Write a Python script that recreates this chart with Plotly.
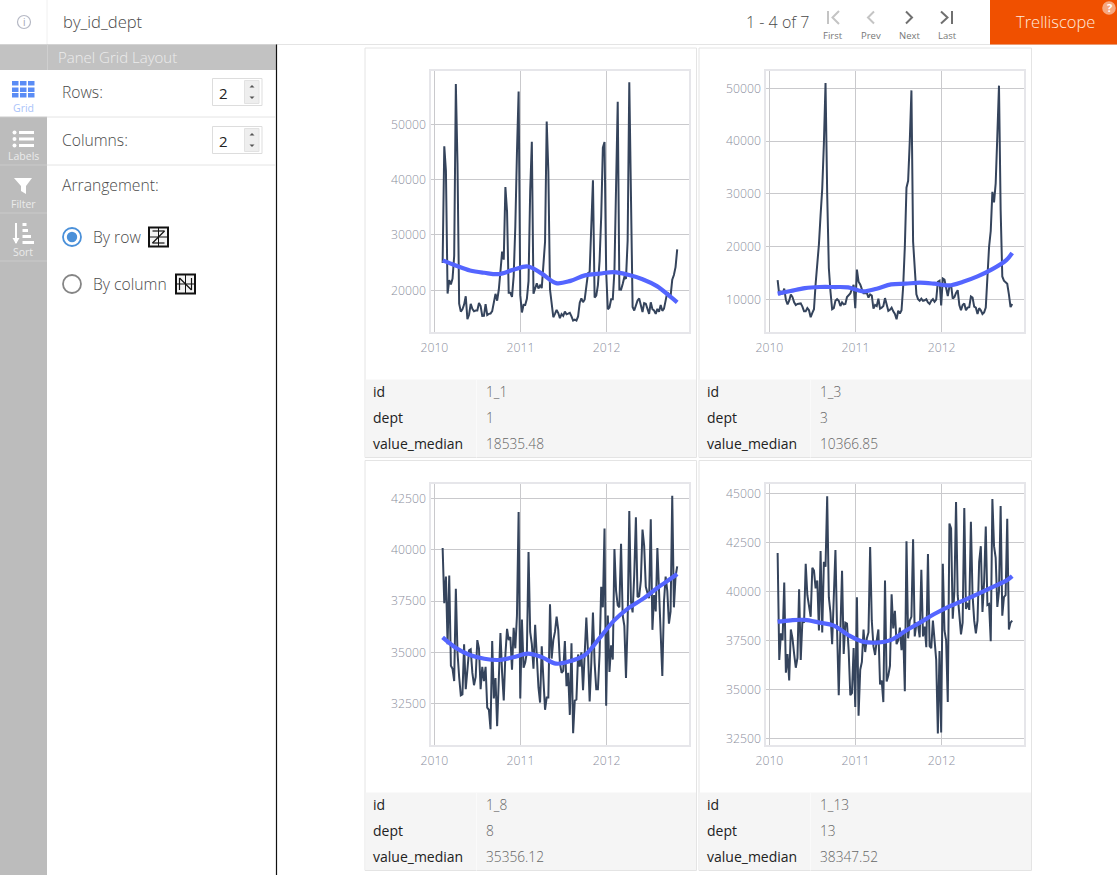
import pandas as pd
import plotly.graph_objects as go
from plotly.subplots import make_subplots

WIDTH = 1117
HEIGHT = 875
FONT = 'Open Sans'

weeks = pd.date_range('2010-02-05', '2012-10-26', freq='7D').strftime('%Y-%m-%d').tolist()
smooth_dates = ['2010-02-05', '2010-04-01', '2010-06-01', '2010-08-01', '2010-10-01', '2010-12-01',
                '2011-02-01', '2011-04-01', '2011-06-01', '2011-08-01', '2011-10-01', '2011-12-01',
                '2012-02-01', '2012-04-01', '2012-06-01', '2012-08-01', '2012-10-01', '2012-10-26']

ids = ['1_1', '1_3', '1_8', '1_13']
depts = ['1', '3', '8', '13']
value_medians = ['18535.48', '10366.85', '35356.12', '38347.52']

dept_1 = [24924, 46039, 41595, 19403, 21827, 21043, 22136, 26229, 57258, 42960,
          17596, 16145, 16555, 17413, 18926, 14773, 15580, 17558, 16637, 16216,
          16328, 16333, 17688, 17150, 15360, 15381, 17508, 15536, 15740, 15793,
          16241, 18194, 19354, 18122, 20094, 23388, 26978, 25543, 38640, 34238,
          19549, 19552, 18820, 22517, 31497, 44912, 55931, 19124, 15984, 17359,
          17341, 18461, 21665, 37887, 46845, 19363, 20327, 21280, 20334, 20881,
          20398, 23873, 28762, 50510, 41512, 20138, 17235, 15136, 15741, 16434,
          15883, 14978, 15682, 15363, 16148, 15654, 15766, 15922, 15295, 14539,
          14689, 14537, 15277, 17746, 18535, 17859, 18337, 20797, 23077, 23351,
          31579, 39886, 18689, 19050, 20911, 25293, 33305, 45773, 46788, 23350,
          16567, 16894, 18365, 18378, 23510, 36988, 54060, 20124, 20113, 21140,
          22366, 22107, 28952, 57592, 34684, 16976, 16347, 17147, 18164, 18517,
          16963, 16065, 17666, 17558, 16633, 15722, 17823, 16566, 16348, 15731,
          16628, 16119, 17330, 16286, 16680, 18322, 19616, 19251, 18947, 21904,
          22764, 24185, 27390]
dept_3 = [13700, 10900, 11500, 11100, 12100, 10000, 9100, 9800, 11000, 10500,
          9500, 9000, 9200, 9300, 9300, 8700, 7800, 7800, 8400, 8000,
          6700, 7500, 8200, 13000, 16500, 20500, 26000, 31000, 39500, 51000,
          30000, 16000, 11500, 8200, 8400, 9800, 10100, 9800, 8800, 9500,
          9100, 9200, 10500, 10900, 11200, 12000, 12800, 8400, 15700, 13400,
          12900, 12000, 11200, 11200, 11300, 10400, 11000, 10800, 8300, 9000,
          8800, 10200, 8300, 8500, 8800, 10300, 8900, 7900, 8100, 8500,
          7800, 7300, 6300, 7900, 7400, 8000, 12500, 20000, 31200, 32500,
          40000, 49600, 21000, 15000, 11000, 10100, 9800, 10200, 9800, 9900,
          10100, 9500, 9200, 9800, 10100, 9600, 10000, 13400, 13600, 8900,
          14000, 13800, 12500, 10700, 12500, 12800, 10200, 10500, 11300, 11800,
          9000, 8000, 9000, 9300, 8000, 8500, 8600, 10600, 10400, 8700,
          8500, 7300, 8400, 8000, 7300, 7600, 8500, 14000, 20000, 23000,
          30400, 28400, 32000, 41000, 50500, 27000, 14400, 13600, 13200, 13000,
          11000, 8600, 9200]
dept_8 = [40100, 37400, 38700, 35400, 38750, 34350, 34200, 33600, 38100, 35000,
          33800, 32900, 32950, 35400, 33200, 34400, 35100, 35150, 34000, 33400,
          33800, 35600, 35200, 33200, 34300, 33600, 34300, 32300, 32200, 31250,
          35550, 32750, 33750, 31400, 33800, 35950, 34000, 32650, 34900, 36150,
          35600, 35750, 34150, 36200, 35200, 36800, 41850, 32750, 36600, 34250,
          34500, 35000, 39900, 36000, 35400, 34200, 36350, 34700, 33300, 32550,
          35300, 33700, 32200, 32800, 32800, 37350, 34700, 35600, 36000, 36750,
          36100, 34500, 34000, 34100, 35550, 33350, 34000, 31950, 35450, 31050,
          32650, 32700, 34900, 34300, 35000, 33150, 34900, 36700, 35000, 32600,
          34500, 36950, 34500, 33200, 33200, 34900, 38200, 37200, 41050, 32400,
          36800, 34050, 35350, 34650, 40050, 38000, 37300, 37200, 40300, 36800,
          36300, 33750, 36500, 41900, 37500, 36950, 38800, 41600, 37700, 37750,
          38500, 41000, 40200, 38200, 37900, 37650, 41500, 36100, 37800, 37000,
          40100, 38000, 36500, 33850, 37500, 38700, 38000, 36400, 37000, 42650,
          37200, 38700, 39200]
dept_13 = [41950, 36500, 37850, 37500, 40450, 35850, 36800, 35450, 38050, 37600,
           36800, 36100, 36600, 40100, 36500, 38500, 38400, 41400, 39800, 39300,
           38700, 41200, 41050, 40150, 40550, 38000, 42050, 37900, 41500, 41250,
           44850, 39700, 38900, 37300, 39500, 42100, 38000, 34700, 38000, 41050,
           36800, 38400, 38350, 37000, 34700, 34800, 37100, 34100, 39700, 33650,
           36000, 36400, 38050, 36900, 37600, 37900, 42250, 38500, 37200, 36750,
           37500, 38050, 35250, 35450, 34350, 40550, 35400, 35700, 36200, 39850,
           38100, 39000, 37300, 37500, 38150, 37000, 37950, 34900, 42550, 37600,
           38500, 38700, 42650, 37700, 38350, 38300, 37650, 41100, 37700, 38200,
           37150, 41900, 37200, 37100, 38500, 37500, 36500, 32750, 36950, 32800,
           41400, 38000, 37500, 34350, 43450, 43200, 38600, 40000, 44550, 39800,
           38700, 37800, 38400, 44250, 39100, 39400, 39050, 43550, 39800, 38500,
           37850, 38500, 41500, 42300, 38950, 40500, 43300, 39300, 39350, 37450,
           44700, 42300, 41700, 39200, 40000, 44350, 38750, 39700, 39800, 43700,
           38050, 38400, 38500]

smooth_1 = [25400, 24490, 23580, 23160, 22920, 23700, 24300, 23000, 21300,
            21700, 22700, 23000, 23280, 22800, 22000, 20750, 18700, 17800]
smooth_3 = [11140, 11640, 12200, 12400, 12400, 12330, 11580, 12080, 12900,
            13030, 13220, 13030, 12700, 13400, 14420, 15740, 17500, 18830]
smooth_8 = [35730, 35230, 34870, 34690, 34630, 34760, 34940, 34770, 34450,
            34580, 34870, 35680, 36550, 37150, 37600, 38130, 38620, 38830]
smooth_13 = [38450, 38520, 38540, 38400, 38250, 37770, 37430, 37380, 37520,
             37980, 38400, 38840, 39220, 39520, 39850, 40200, 40540, 40770]

series = [dept_1, dept_3, dept_8, dept_13]
smooths = [smooth_1, smooth_3, smooth_8, smooth_13]
y_ranges = [[12460, 59630], [3890, 53270], [30480, 43220], [32160, 45470]]
y_dticks = [10000, 10000, 2500, 2500]
x_range = ['2009-12-19', '2012-12-15']

# pixel boxes of the four plot areas and their cards: left, top, right, bottom
plot_boxes = [(431.3, 71, 689, 332), (766.3, 71, 1024, 332), (431.3, 484, 689, 745), (766.3, 484, 1024, 745)]
cards = [(365, 48, 696.5, 457.5), (699, 48, 1031.5, 457.5), (365, 460.5, 696.5, 870.5), (699, 460.5, 1031.5, 870.5)]

LINE = '#35445c'
SMOOTH = '#5465ff'
GRID = '#c9c9cc'
BORDER = '#e6e6ea'
TICK = '#8a8e9c'
TEXT = '#4a4a4a'
RULE = '#e4e4e4'


def X(px):
    return px / WIDTH


def Y(py):
    return 1 - py / HEIGHT


def rect(x0, y0, x1, y1, fill=None, line=None, width=1):
    fig.add_shape(type='rect', xref='paper', yref='paper', x0=X(x0), y0=Y(y0), x1=X(x1), y1=Y(y1),
                  fillcolor=fill, line=dict(color=line, width=width if line else 0))


def circle(cx, cy, r, fill=None, line=None, width=1):
    fig.add_shape(type='circle', xref='paper', yref='paper', x0=X(cx - r), y0=Y(cy - r), x1=X(cx + r), y1=Y(cy + r),
                  fillcolor=fill, line=dict(color=line, width=width if line else 0))


def poly(points, fill=None, line=None, width=1, closed=False):
    path = 'M ' + ' L '.join('{0:.5f} {1:.5f}'.format(X(p[0]), Y(p[1])) for p in points)
    if closed:
        path += ' Z'
    fig.add_shape(type='path', xref='paper', yref='paper', path=path,
                  fillcolor=fill, line=dict(color=line, width=width if line else 0))


def label(x, y, text, size=14, color=TEXT, anchor='left', weight=400):
    fig.add_annotation(xref='paper', yref='paper', x=X(x), y=Y(y), text=text, showarrow=False,
                       xanchor=anchor, yanchor='middle', borderpad=0, borderwidth=0,
                       font=dict(family=FONT, size=size, color=color, weight=weight))


fig = make_subplots(rows=2, cols=2)

for i in range(4):
    row, col = i // 2 + 1, i % 2 + 1
    left, top, right, bottom = plot_boxes[i]
    fig.add_trace(go.Scatter(x=weeks, y=series[i], mode='lines', line=dict(color=LINE, width=2),
                             showlegend=False), row=row, col=col)
    fig.add_trace(go.Scatter(x=smooth_dates, y=smooths[i], mode='lines',
                             line=dict(color=SMOOTH, width=4.2, shape='spline'),
                             showlegend=False), row=row, col=col)
    fig.update_xaxes(domain=[X(left), X(right)], range=x_range, type='date', dtick='M12', tick0='2010-01-01',
                     tickformat='%Y', showgrid=True, gridcolor=GRID, gridwidth=1, zeroline=False,
                     showline=True, mirror=True, linecolor=BORDER, linewidth=2, automargin=False,
                     ticks='outside', ticklen=3, tickcolor='rgba(0,0,0,0)',
                     tickfont=dict(family=FONT, size=12.2, color=TICK, weight=300), row=row, col=col)
    fig.update_yaxes(domain=[Y(bottom), Y(top)], range=y_ranges[i], dtick=y_dticks[i], tick0=0,
                     tickformat='d', showgrid=True, gridcolor=GRID, gridwidth=1, zeroline=False,
                     showline=True, mirror=True, linecolor=BORDER, linewidth=2, automargin=False,
                     ticks='outside', ticklen=1, tickcolor='rgba(0,0,0,0)',
                     tickfont=dict(family=FONT, size=12.2, color=TICK, weight=300), row=row, col=col)

    # card with its label table
    c0, c1, c2, c3 = cards[i]
    rect(c0, c1, c2, c3, line=RULE)
    rect(c0 + 0.5, c3 - 78, c2 - 0.5, c3 - 0.5, fill='#f5f5f5')
    fig.add_shape(type='line', xref='paper', yref='paper', x0=X(c0 + 111.5), x1=X(c0 + 111.5),
                  y0=Y(c3 - 78), y1=Y(c3), line=dict(color='#fafafa', width=1))
    rows = [('id', ids[i]), ('dept', depts[i]), ('value_median', value_medians[i])]
    for k, (name, value) in enumerate(rows):
        cy = c3 - 66 + 26 * k
        label(c0 + 8, cy, name, size=14, color='#222222')
        label(c0 + 120.5, cy, value, size=13.7, color='#666666', weight=300)

# top bar
fig.add_shape(type='line', xref='paper', yref='paper', x0=0, x1=1, y0=Y(44.5), y1=Y(44.5), line=dict(color=RULE, width=1))
fig.add_shape(type='line', xref='paper', yref='paper', x0=X(47), x1=X(47), y0=Y(0), y1=Y(44), line=dict(color='#f0f0f0', width=1))
circle(24, 22, 6.5, line='#b5b8c4', width=1.2)
label(24, 22, 'i', size=10, color='#a0a3b0', anchor='center')
label(63, 22, 'by_id_dept', size=16.6, color=TEXT, weight=300)
label(746, 22, '1 - 4 of 7', size=16, color=TEXT, weight=300)

# pager icons
fig.add_shape(type='line', xref='paper', yref='paper', x0=X(828), x1=X(828), y0=Y(11), y1=Y(24), line=dict(color='#c4c4c4', width=2))
poly([(839, 11), (832.5, 17.5), (839, 24)], line='#c4c4c4', width=2)
poly([(874, 11.5), (868, 17.5), (874, 23.5)], line='#c4c4c4', width=2)
poly([(906, 11.5), (912, 17.5), (906, 23.5)], line='#707070', width=2)
poly([(941, 11.5), (947.5, 17.5), (941, 23.5)], line='#707070', width=2)
fig.add_shape(type='line', xref='paper', yref='paper', x0=X(952), x1=X(952), y0=Y(11), y1=Y(24), line=dict(color='#707070', width=2))
for cx, name in [(833, 'First'), (871, 'Prev'), (909, 'Next'), (947, 'Last')]:
    label(cx, 35, name, size=9.5, color='#777777', anchor='center')

# Trelliscope tab
rect(990, 0, 1117, 44.5, fill='#f05000')
label(1055, 21.5, 'Trelliscope', size=16.5, color='#ffe9dc', anchor='center', weight=300)
circle(1109, 8, 6.8, fill='#f6a77e')
label(1109, 8, '?', size=11, color='#ffffff', anchor='center', weight=700)

# sidebar
rect(0, 44.5, 277, 70, fill='#c2c2c2')
fig.add_shape(type='line', xref='paper', yref='paper', x0=X(47.5), x1=X(47.5), y0=Y(44.5), y1=Y(70), line=dict(color='#cfcfcf', width=1))
label(58, 57, 'Panel Grid Layout', size=15, color='#ececec', weight=300)
rect(0, 117, 47, 875, fill='#bcbcbc')
fig.add_shape(type='line', xref='paper', yref='paper', x0=X(276.5), x1=X(276.5), y0=Y(44.5), y1=0, line=dict(color='#111111', width=1.2))
for py in [117, 165, 213, 261]:
    fig.add_shape(type='line', xref='paper', yref='paper', x0=0, x1=X(47), y0=Y(py), y1=Y(py), line=dict(color='#cacaca', width=1))

# grid tile icon
for gy in [81, 87.5, 93]:
    for gx in [12, 20, 28]:
        rect(gx, gy, gx + 6.5, gy + 4.5, fill='#5a8cf5')
label(23, 108, 'Grid', size=10.5, color='#a9c3fa', anchor='center')

# labels tile icon
for gy in [131, 137.5, 144]:
    circle(14.5, gy + 1.5, 2, fill='#ffffff')
    rect(19, gy, 34, gy + 3, fill='#ffffff')
label(23, 156, 'Labels', size=10.5, color='#ebebeb', anchor='center')

# filter tile icon
poly([(14, 178), (32, 178), (26, 186), (26, 194), (21, 191), (21, 186)], fill='#ffffff', closed=True)
label(23, 204, 'Filter', size=10.5, color='#ebebeb', anchor='center')

# sort tile icon
poly([(16, 223), (16, 243)], line='#ffffff', width=2)
poly([(12.5, 238), (16, 244), (19.5, 238)], fill='#ffffff', closed=True)
rect(22.5, 223, 26.5, 226, fill='#ffffff')
rect(22.5, 229, 28, 232, fill='#ffffff')
rect(22.5, 235, 31, 238, fill='#ffffff')
rect(22.5, 241, 34, 244, fill='#ffffff')
label(23, 252, 'Sort', size=10.5, color='#ebebeb', anchor='center')

# grid controls
label(62, 92, 'Rows:', size=15.7, weight=300)
label(62, 140, 'Columns:', size=15.7, weight=300)
label(62, 185, 'Arrangement:', size=15.7, weight=300)
for py in [117, 165]:
    fig.add_shape(type='line', xref='paper', yref='paper', x0=X(47), x1=X(276), y0=Y(py), y1=Y(py), line=dict(color=RULE, width=1))
for top in [78.5, 126.5]:
    rect(212.5, top, 262, top + 27, fill='#ffffff', line='#dddddd')
    rect(244.5, top + 2, 259, top + 25, fill='#eeeeee', line='#e2e2e2')
    label(223, top + 14, '2', size=15, color='#222222', anchor='center')
    poly([(249.5, top + 9), (252, top + 6.5), (254.5, top + 9)], fill='#555555', closed=True)
    poly([(249.5, top + 18), (252, top + 20.5), (254.5, top + 18)], fill='#555555', closed=True)

# arrangement radios
circle(72, 237, 9, line='#4a90d9', width=1.8)
circle(72, 237, 5.2, fill='#4a90d9')
circle(72, 284, 9, line='#858585', width=1.8)
label(93, 237, 'By row', size=15.7, weight=300)
label(93, 284, 'By column', size=15.7, weight=300)

# arrangement glyphs
glyphs = [(158.5, 237, [(-6, -6, 6, -6), (6, -6, -6, 6), (-6, 6, 6, 6)]),
          (185.5, 284, [(-6, 6, -6, -6), (-6, -6, 6, 6), (6, 6, 6, -6)])]
for cx, cy, arrows in glyphs:
    rect(cx - 9.5, cy - 9.5, cx + 9.5, cy + 9.5, fill='#f4f4f4', line='#111111', width=2)
    poly([(cx - 9, cy), (cx + 9, cy)], line='#111111', width=1)
    poly([(cx, cy - 9), (cx, cy + 9)], line='#111111', width=1)
    for ax0, ay0, ax1, ay1 in arrows:
        poly([(cx + ax0, cy + ay0), (cx + ax1, cy + ay1)], line='#111111', width=1.2)

fig.update_layout(width=WIDTH, height=HEIGHT, margin=dict(l=0, r=0, t=0, b=0, pad=0), autosize=False,
                  paper_bgcolor='white', plot_bgcolor='white', showlegend=False, hovermode=False,
                  font=dict(family=FONT))

fig.write_html('out.html', config={'displayModeBar': False},
               post_script="document.body.style.margin='0';document.body.style.overflow='hidden';")
